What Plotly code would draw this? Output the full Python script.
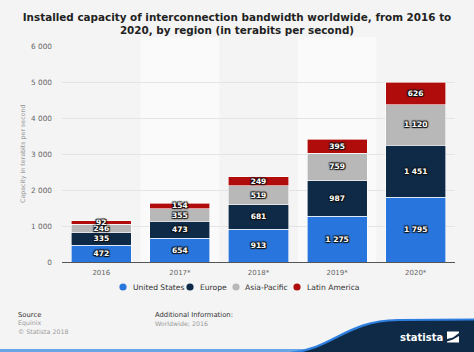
import plotly.graph_objects as go

# ---- data ----
years = ["2016", "2017*", "2018*", "2019*", "2020*"]
united_states = [472, 654, 913, 1275, 1795]
europe = [335, 473, 681, 987, 1451]
asia_pacific = [246, 355, 519, 759, 1120]
latin_america = [92, 154, 249, 395, 626]

series_names = ["United States", "Europe", "Asia-Pacific", "Latin America"]
series_values = [united_states, europe, asia_pacific, latin_america]
series_colors = ["#2876dd", "#0f2a47", "#b8b8b8", "#b00c0c"]

y_ticks = [0, 1000, 2000, 3000, 4000, 5000, 6000]

# ---- layout geometry (pixels of the 474x352 page) ----
W, H = 474, 352
PL, PR, PT, PB = 62, 455, 46, 262  # plot area


def px(xp):
    return (xp - PL) / (PR - PL)


def py(yp):
    return (PB - yp) / (PB - PT)


FONT = "DejaVu Sans"
BG = "#f4f4f4"

fig = go.Figure()

shadow = ("1px 1px 1px #111, -1px -1px 1px #111, 1px -1px 1px #111, "
          "-1px 1px 1px #111")

for name, vals, col in zip(series_names, series_values, series_colors):
    fig.add_trace(go.Bar(
        x=years, y=vals, name=name,
        marker=dict(color=col, line=dict(color="#ffffff", width=0.6)),
        texttemplate="%{y:,}", textposition="inside",
        insidetextanchor="middle", constraintext="none",
        textfont=dict(family=FONT, size=7.5, color="#ffffff",
                      weight="bold", shadow=shadow),
        cliponaxis=False, showlegend=False, hoverinfo="skip",
    ))

shapes = []
# alternating lighter column bands
for i in (1, 3):
    shapes.append(dict(type="rect", xref="x", yref="paper",
                       x0=i - 0.5, x1=i + 0.5, y0=0, y1=1.04,
                       fillcolor="#fafafa", line=dict(width=0), layer="below"))

annotations = []

# manual legend (circle + label)
legend_items = [(123, 131), (190, 198), (236, 243), (297, 305)]
LEG_Y = 287
for (cx, tx), name, col in zip(legend_items, series_names, series_colors):
    shapes.append(dict(type="circle", xref="paper", yref="paper",
                       xsizemode="pixel", ysizemode="pixel",
                       xanchor=px(cx), yanchor=py(LEG_Y),
                       x0=-3.6, x1=3.6, y0=-3.6, y1=3.6,
                       fillcolor=col, line=dict(width=0)))
    annotations.append(dict(text=name, xref="paper", yref="paper",
                            x=px(tx), y=py(LEG_Y), xanchor="left",
                            yanchor="middle", showarrow=False,
                            font=dict(family=FONT, size=7.6, color="#333333")))

# y-axis title
annotations.append(dict(text="Capacity in terabits per second", textangle=-90,
                        xref="paper", yref="paper", x=px(23), y=py(154),
                        xanchor="center", yanchor="middle", showarrow=False,
                        font=dict(family=FONT, size=6.3, color="#9a9a9a")))

# footer
foot = [
    ("Source", 16, 315, "#333333", 6.8),
    ("Equinix", 16, 323, "#9a9a9a", 6.3),
    ("© Statista 2018", 16, 331, "#9a9a9a", 6.3),
    ("Additional Information:", 153, 315, "#333333", 6.8),
    ("Worldwide; 2016", 153, 323, "#9a9a9a", 6.3),
]
for t, x0, y0, c, s in foot:
    annotations.append(dict(text=t, xref="paper", yref="paper", x=px(x0),
                            y=py(y0), xanchor="left", yanchor="middle",
                            showarrow=False,
                            font=dict(family=FONT, size=s, color=c)))

# bottom light-blue stripe
shapes.append(dict(type="rect", xref="paper", yref="paper",
                   x0=px(0), x1=px(W), y0=py(H), y1=py(349),
                   fillcolor="#6aa5e6", line=dict(width=0)))

swoosh = (f"M {px(290)},{py(353)} "
          f"C {px(335)},{py(348)} {px(345)},{py(321)} {px(398)},{py(320)} "
          f"L {px(475)},{py(319.5)} L {px(475)},{py(353)} Z")
shapes.append(dict(type="path", xref="paper", yref="paper", path=swoosh,
                   fillcolor="#0f2a47", line=dict(width=0)))
edge = (f"M {px(290)},{py(353)} "
        f"C {px(335)},{py(348)} {px(345)},{py(321)} {px(398)},{py(320)} "
        f"L {px(475)},{py(319.5)}")
shapes.append(dict(type="path", xref="paper", yref="paper", path=edge,
                   line=dict(color="#2f7fe0", width=2.2)))

# logo text + icon
annotations.append(dict(text="<b>statista</b>", xref="paper", yref="paper",
                        x=px(421.5), y=py(337), xanchor="center",
                        yanchor="middle", showarrow=False,
                        font=dict(family=FONT, size=10, color="#ffffff")))
shapes.append(dict(type="rect", xref="paper", yref="paper",
                   x0=px(447), x1=px(459), y0=py(342.5), y1=py(331.5),
                   fillcolor="#ffffff", line=dict(width=0)))
icon = (f"M {px(447)},{py(339)} L {px(453)},{py(337.5)} L {px(459)},{py(333)} "
        f"L {px(459)},{py(336)} L {px(453)},{py(339.5)} L {px(447)},{py(341.5)} Z")
shapes.append(dict(type="path", xref="paper", yref="paper", path=icon,
                   fillcolor="#0f2a47", line=dict(width=0)))

fig.update_layout(
    width=W, height=H,
    margin=dict(l=PL, r=W - PR, t=PT, b=H - PB, pad=0),
    paper_bgcolor=BG, plot_bgcolor=BG,
    barmode="stack", bargap=0.235,
    separators=". ",
    uniformtext=dict(minsize=7.5, mode="show"),
    font=dict(family=FONT, color="#666666"),
    title=dict(
        text="<b>Installed capacity of interconnection bandwidth worldwide, from 2016 to<br>"
             "2020, by region (in terabits per second)</b>",
        x=237 / W, xref="container", xanchor="center",
        y=1 - 20.5 / H, yref="container", yanchor="top",
        font=dict(family=FONT, size=10.4, color="#222222"),
    ),
    xaxis=dict(type="category", showgrid=False, showline=True,
               linecolor="#555555", linewidth=1, ticks="",
               ticklabelstandoff=4,
               tickfont=dict(family=FONT, size=7, color="#666666"),
               fixedrange=True),
    yaxis=dict(range=[0, 6000], tickvals=y_ticks, tickformat=",d",
               showgrid=True, gridcolor="#e4e4e4", gridwidth=1,
               zeroline=False, showline=False, ticks="",
               ticklabelstandoff=9,
               tickfont=dict(family=FONT, size=7.3, color="#666666"),
               fixedrange=True),
    shapes=shapes,
    annotations=annotations,
    showlegend=False,
)

fig.write_html("out.html")
